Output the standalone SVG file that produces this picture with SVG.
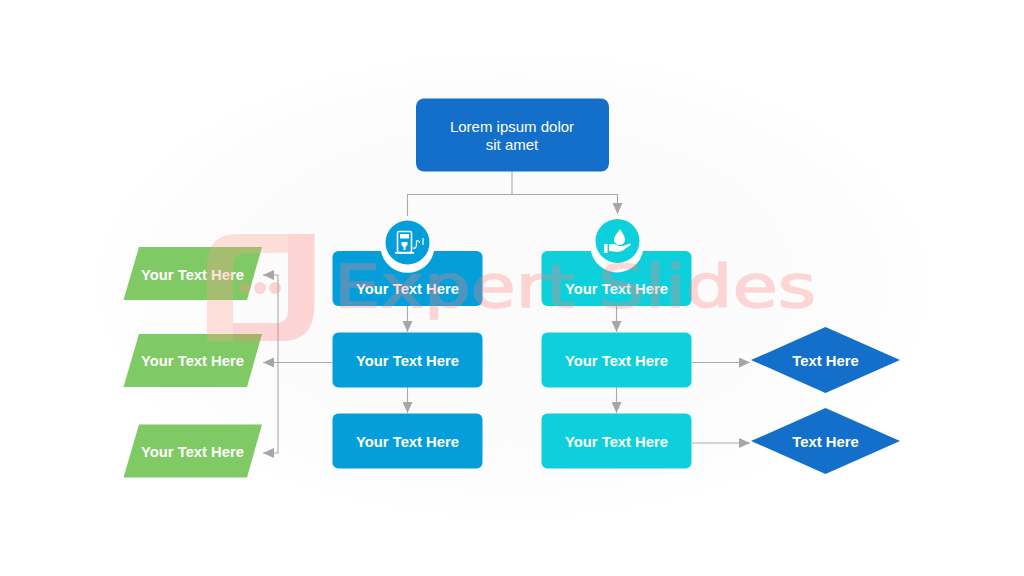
<svg xmlns="http://www.w3.org/2000/svg" width="1024" height="576" viewBox="0 0 1024 576">
<defs>
<marker id="ah" markerUnits="userSpaceOnUse" markerWidth="12" markerHeight="10" refX="11" refY="5" orient="auto"><path d="M0 0L11 5L0 10Z" fill="#a6a6a6"/></marker>
<radialGradient id="bg" cx="50%" cy="50%" r="50%"><stop offset="0" stop-color="#fbfbfb"/><stop offset="0.8" stop-color="#fcfcfc"/><stop offset="1" stop-color="#fff"/></radialGradient>
</defs>
<style>
.t{font-family:"Liberation Sans",Arial,sans-serif;font-weight:700;font-size:14.800px;fill:#fff;text-anchor:middle}
.r{font-weight:400;font-size:15px}
.c{fill:none;stroke:#a9a9a9;stroke-width:1.1}
.a{marker-end:url(#ah)}
.g{fill:#7fca65}.b{fill:#049fdb}.q{fill:#0ed0dc}.d{fill:#136fc9}
.w{fill:#fff}
</style>
<rect width="1024" height="576" fill="#fff"/>
<ellipse cx="512" cy="285" rx="420" ry="235" fill="url(#bg)"/>
<g id="connectors">
<path class="c" d="M512 171V194.500"/>
<path class="c a" d="M407.500 216V194.500H617.500V214"/>
<path class="c a" d="M407.500 306V332"/>
<path class="c a" d="M407.500 387V413"/>
<path class="c a" d="M616.500 306V332"/>
<path class="c a" d="M616.500 387V413"/>
<path class="c a" d="M692 362.500H750"/>
<path class="c a" d="M692 443H750"/>
<path class="c a" d="M332 362.500H263"/>
<path class="c a" d="M278 362.500V275H263"/>
<path class="c a" d="M278 362.500V453H263"/>
</g>
<g id="top"><rect x="416" y="98.500" width="193" height="73" rx="8" class="d"/><text class="t r" x="512" y="132">Lorem ipsum dolor</text><text class="t r" x="512" y="150">sit amet</text></g>
<g id="b1"><rect x="332.500" y="251" width="150" height="55" rx="6" class="b"/><text class="t" x="407.500" y="294">Your Text Here</text></g>
<g id="b2"><rect x="332.500" y="332.500" width="150" height="55" rx="6" class="b"/><text class="t" x="407.500" y="366">Your Text Here</text></g>
<g id="b3"><rect x="332.500" y="413.500" width="150" height="55" rx="6" class="b"/><text class="t" x="407.500" y="447">Your Text Here</text></g>
<g id="c1"><rect x="541.500" y="251" width="150" height="55" rx="6" class="q"/><text class="t" x="616.500" y="294">Your Text Here</text></g>
<g id="c2"><rect x="541.500" y="332.500" width="150" height="55" rx="6" class="q"/><text class="t" x="616.500" y="366">Your Text Here</text></g>
<g id="c3"><rect x="541.500" y="413.500" width="150" height="55" rx="6" class="q"/><text class="t" x="616.500" y="447">Your Text Here</text></g>
<g id="g1"><path class="g" d="M139 247H262L247 300H123.500Z"/><text class="t" x="192.500" y="280">Your Text Here</text></g>
<g id="g2"><path class="g" d="M139 334H262L247 387H123.500Z"/><text class="t" x="192.500" y="366">Your Text Here</text></g>
<g id="g3"><path class="g" d="M139 424.500H262L247 477.500H123.500Z"/><text class="t" x="192.500" y="457">Your Text Here</text></g>
<g id="d1"><path class="d" d="M825.500 327L900 360L825.500 393L751 360Z"/><text class="t" x="825.500" y="366">Text Here</text></g>
<g id="d2"><path class="d" d="M825.500 408L900 441L825.500 474L751 441Z"/><text class="t" x="825.500" y="447">Text Here</text></g>
<g id="icon1">
<path class="w" d="M381 251a27 27 0 0 0 53 0Z"/><circle cx="407.500" cy="242.500" r="22" class="b"/>
<rect x="397.500" y="231.500" width="14" height="21" rx="1.500" fill="none" stroke="#fff" stroke-width="1.600"/>
<rect x="400" y="234" width="9" height="4.500" fill="#fff"/>
<path class="w" d="M401.500 242h6v3l-2 2v3h-2v-3l-2-2Z"/>
<rect x="395" y="252" width="19" height="1.800" class="w"/>
<path d="M413 248q3.500 1 3.500-4v-3q3-1 3 2M423 238v7" fill="none" stroke="#fff" stroke-width="1.200"/>
</g>
<g id="icon2">
<path class="w" d="M591 251a26.500 26.500 0 0 0 52 0Z"/><circle cx="617.500" cy="241" r="22" class="q"/>
<path class="w" d="M622.500 229c3 5 5 7.500 5 10.500a5.500 5.500 0 0 1-11 0c0-3 3-5.500 6-10.500Z" transform="translate(-2.500 0)"/>
<rect x="604" y="244" width="3.500" height="9" class="w"/>
<path class="w" d="M609 244.500l5-.5 5 2h4l7-2.500 1 1-8 6-5 1.500-9-1Z"/>
</g>
<g id="watermark" opacity="0.3" fill="#ff7f7a">
<path d="M288 234H238Q207 234 207 265V341H233V268Q233 253 246 253H288Z" fill="#ff9f8a"/>
<path d="M288 234H314.500V305Q314.500 341 282 341H233V323H276Q288 323 288 310Z"/>
<circle cx="245" cy="288" r="6" fill="#ff9a7a"/><circle cx="260" cy="288" r="6"/><circle cx="275" cy="288" r="6"/>
<text x="334" y="307" font-family="DejaVu Sans,sans-serif" font-size="58" stroke="#ff7f7a" stroke-width="1.500" textLength="482" lengthAdjust="spacingAndGlyphs">Expert Slides</text>
</g>
</svg>
